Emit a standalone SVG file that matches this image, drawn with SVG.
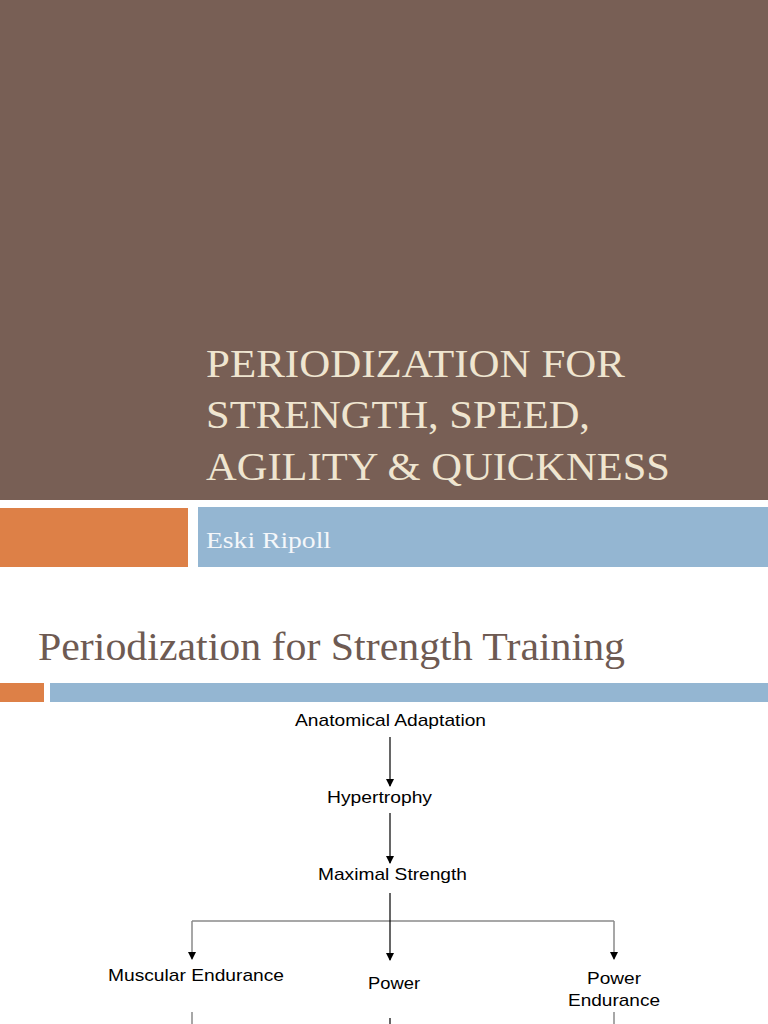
<svg xmlns="http://www.w3.org/2000/svg" width="768" height="1024" viewBox="0 0 768 1024">
<style>
.title{font-family:"Liberation Serif",serif;font-size:41px;fill:#EFE5D0}
.sub{font-family:"Liberation Serif",serif;font-size:24px;fill:#F4F7FA}
.h2{font-family:"Liberation Serif",serif;font-size:39px;fill:#6E5A52}
.lbl{font-family:"Liberation Sans",Arial,sans-serif;font-size:17px;fill:#000;text-anchor:middle}
.blk{stroke:#000;stroke-width:1.2;fill:none}
.gry{stroke:#8a8a8a;stroke-width:1.5;fill:none}
</style>
<defs>
<marker id="ad" markerWidth="8" markerHeight="8" refX="7" refY="4" orient="auto" markerUnits="userSpaceOnUse" viewBox="0 0 8 8">
<path d="M0,0 L8,4 L0,8 Z" fill="#000"/>
</marker>
</defs>
<rect x="0" y="0" width="768" height="1024" fill="#fff"/>
<rect x="0" y="0" width="768" height="500" fill="#785F55"/>
<rect x="0" y="508" width="188" height="59" fill="#DD8047"/>
<rect x="198" y="507" width="570" height="60" fill="#94B6D2"/>
<g id="title">
<text class="title" x="206" y="377" textLength="419" lengthAdjust="spacingAndGlyphs">PERIODIZATION FOR</text>
<text class="title" x="206" y="428" textLength="384" lengthAdjust="spacingAndGlyphs">STRENGTH, SPEED,</text>
<text class="title" x="206" y="480" textLength="464" lengthAdjust="spacingAndGlyphs">AGILITY &amp; QUICKNESS</text>
</g>
<text class="sub" x="206" y="548" textLength="125" lengthAdjust="spacingAndGlyphs">Eski Ripoll</text>
<text class="h2" x="38" y="660" textLength="587" lengthAdjust="spacingAndGlyphs">Periodization for Strength Training</text>
<rect x="0" y="683" width="44" height="19" fill="#DD8047"/>
<rect x="50" y="683" width="718" height="19" fill="#94B6D2"/>
<g id="connectors">
<line class="blk" x1="390" y1="737" x2="390" y2="786" marker-end="url(#ad)"/>
<line class="blk" x1="390" y1="813" x2="390" y2="863" marker-end="url(#ad)"/>
<line class="gry" x1="192" y1="921" x2="614" y2="921"/>
<line class="blk" x1="390" y1="893" x2="390" y2="960" marker-end="url(#ad)"/>
<line class="gry" x1="192" y1="921" x2="192" y2="959" marker-end="url(#ad)"/>
<line class="gry" x1="614" y1="921" x2="614" y2="959" marker-end="url(#ad)"/>
<line class="gry" x1="192" y1="1012" x2="192" y2="1024"/>
<line class="blk" x1="390" y1="1018" x2="390" y2="1024"/>
<line class="gry" x1="614" y1="1012" x2="614" y2="1024"/>
</g>
<g id="n-anatomical"><text class="lbl" x="390.5" y="726" textLength="191" lengthAdjust="spacingAndGlyphs">Anatomical Adaptation</text></g>
<g id="n-hypertrophy"><text class="lbl" x="379.5" y="803" textLength="105" lengthAdjust="spacingAndGlyphs">Hypertrophy</text></g>
<g id="n-maximal"><text class="lbl" x="392.5" y="880" textLength="149" lengthAdjust="spacingAndGlyphs">Maximal Strength</text></g>
<g id="n-muscular"><text class="lbl" x="196" y="981" textLength="176" lengthAdjust="spacingAndGlyphs">Muscular Endurance</text></g>
<g id="n-power"><text class="lbl" x="394" y="989" textLength="52" lengthAdjust="spacingAndGlyphs">Power</text></g>
<g id="n-powerend"><text class="lbl" x="614" y="984" textLength="54" lengthAdjust="spacingAndGlyphs">Power</text><text class="lbl" x="614" y="1006" textLength="92" lengthAdjust="spacingAndGlyphs">Endurance</text></g>
</svg>
